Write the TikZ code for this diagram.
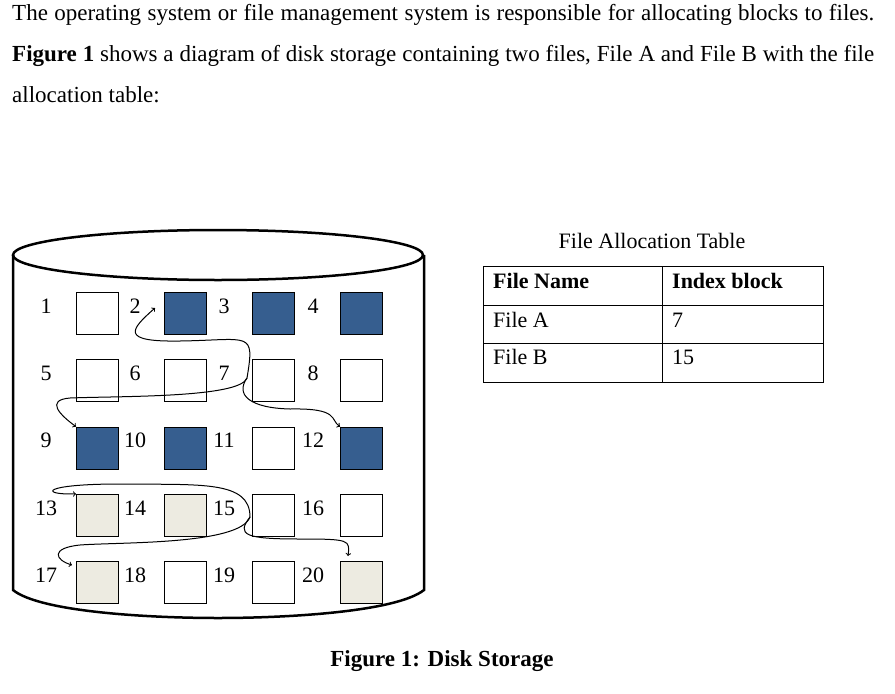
\documentclass[tikz,border=0pt]{standalone}
\usepackage{fontspec}
\setmainfont{Liberation Serif}
\tikzset{
  blk/.style={draw,minimum size=42pt,inner sep=0pt,anchor=north west},
  used/.style={blk,fill=usedblue},
  fileb/.style={blk,fill=beige},
  num/.style={font=\fontsize{22}{22}\selectfont,inner sep=0pt},
  link/.style={->,>=to,line width=1pt}
}
\definecolor{usedblue}{RGB}{54,94,143}
\definecolor{beige}{RGB}{237,235,225}
\begin{document}
\begin{tikzpicture}[x=1pt,y=-1pt]
\useasboundingbox (0,0) rectangle (895,694);
\node[anchor=north west,text width=862pt,align=justify,inner sep=0pt,font=\fontsize{23}{41}\selectfont] (intro) at (12,4)
 {The operating system or file management system is responsible for allocating blocks to files. \textbf{Figure 1} shows a diagram of disk storage containing two files, File A and File B with the file allocation table:};
% cylinder
\draw[line width=2.5pt] (218,255) ellipse (205 and 25);
\draw[line width=2.5pt] (13,255) -- (13,590) .. controls (40,612) and (150,618) .. (218,618)
  .. controls (286,618) and (396,612) .. (424,590) -- (424,255);
% blocks
\foreach \i/\st in {1/blk,2/used,3/used,4/used,5/blk,6/blk,7/blk,8/blk,9/used,10/used,11/blk,12/used,13/fileb,14/fileb,15/blk,16/blk,17/fileb,18/blk,19/blk,20/fileb}{
  \pgfmathtruncatemacro\col{mod(\i-1,4)}
  \pgfmathtruncatemacro\row{int((\i-1)/4)}
  \node[\st] (b\i) at (76+88*\col,292+67.3*\row) {};
  \node[num] (n\i) at (46+89*\col,306+67.3*\row) {\i};
}
% file A chain
\coordinate (a7) at (247,378);
\draw[link] (a7) .. controls (255,330) and (250,340) .. (180,341) .. controls (120,342) and (130,330) .. (155,308);
\draw[link] (a7) .. controls (240,398) and (120,396) .. (70,398) .. controls (45,400) and (60,415) .. (b9.north west);
\draw[link] (a7) .. controls (235,395) and (250,408) .. (290,409) .. controls (340,408) and (330,420) .. (b12.north west);
% file B chain
\coordinate (a15) at (250,517);
\draw[link] (a15) .. controls (250,480) and (200,485) .. (120,484) .. controls (40,484) and (40,495) .. (b13.north west);
\draw[link] (a15) .. controls (240,545) and (120,542) .. (80,545) .. controls (50,548) and (55,560) .. (72,565);
\draw[link] (a15) .. controls (236,535) and (245,539) .. (300,539) .. controls (350,539) and (350,540) .. (348,556);
% table
\node[num] (ttl) at (652,241) {File Allocation Table};
\draw (483,266) rectangle (823,382) (662,266) -- (662,382) (483,305) -- (823,305) (483,343) -- (823,343);
\foreach \t/\x/\y in {\textbf{File Name}/493/281,\textbf{Index block}/672/281,File A/493/320,7/672/320,File B/493/357,15/672/357}
  \node[num,anchor=west] at (\x,\y) {\t};
\node[font=\bfseries\fontsize{23}{23}\selectfont] (cap) at (442,661) {Figure 1: Disk Storage};
\end{tikzpicture}
\end{document}
